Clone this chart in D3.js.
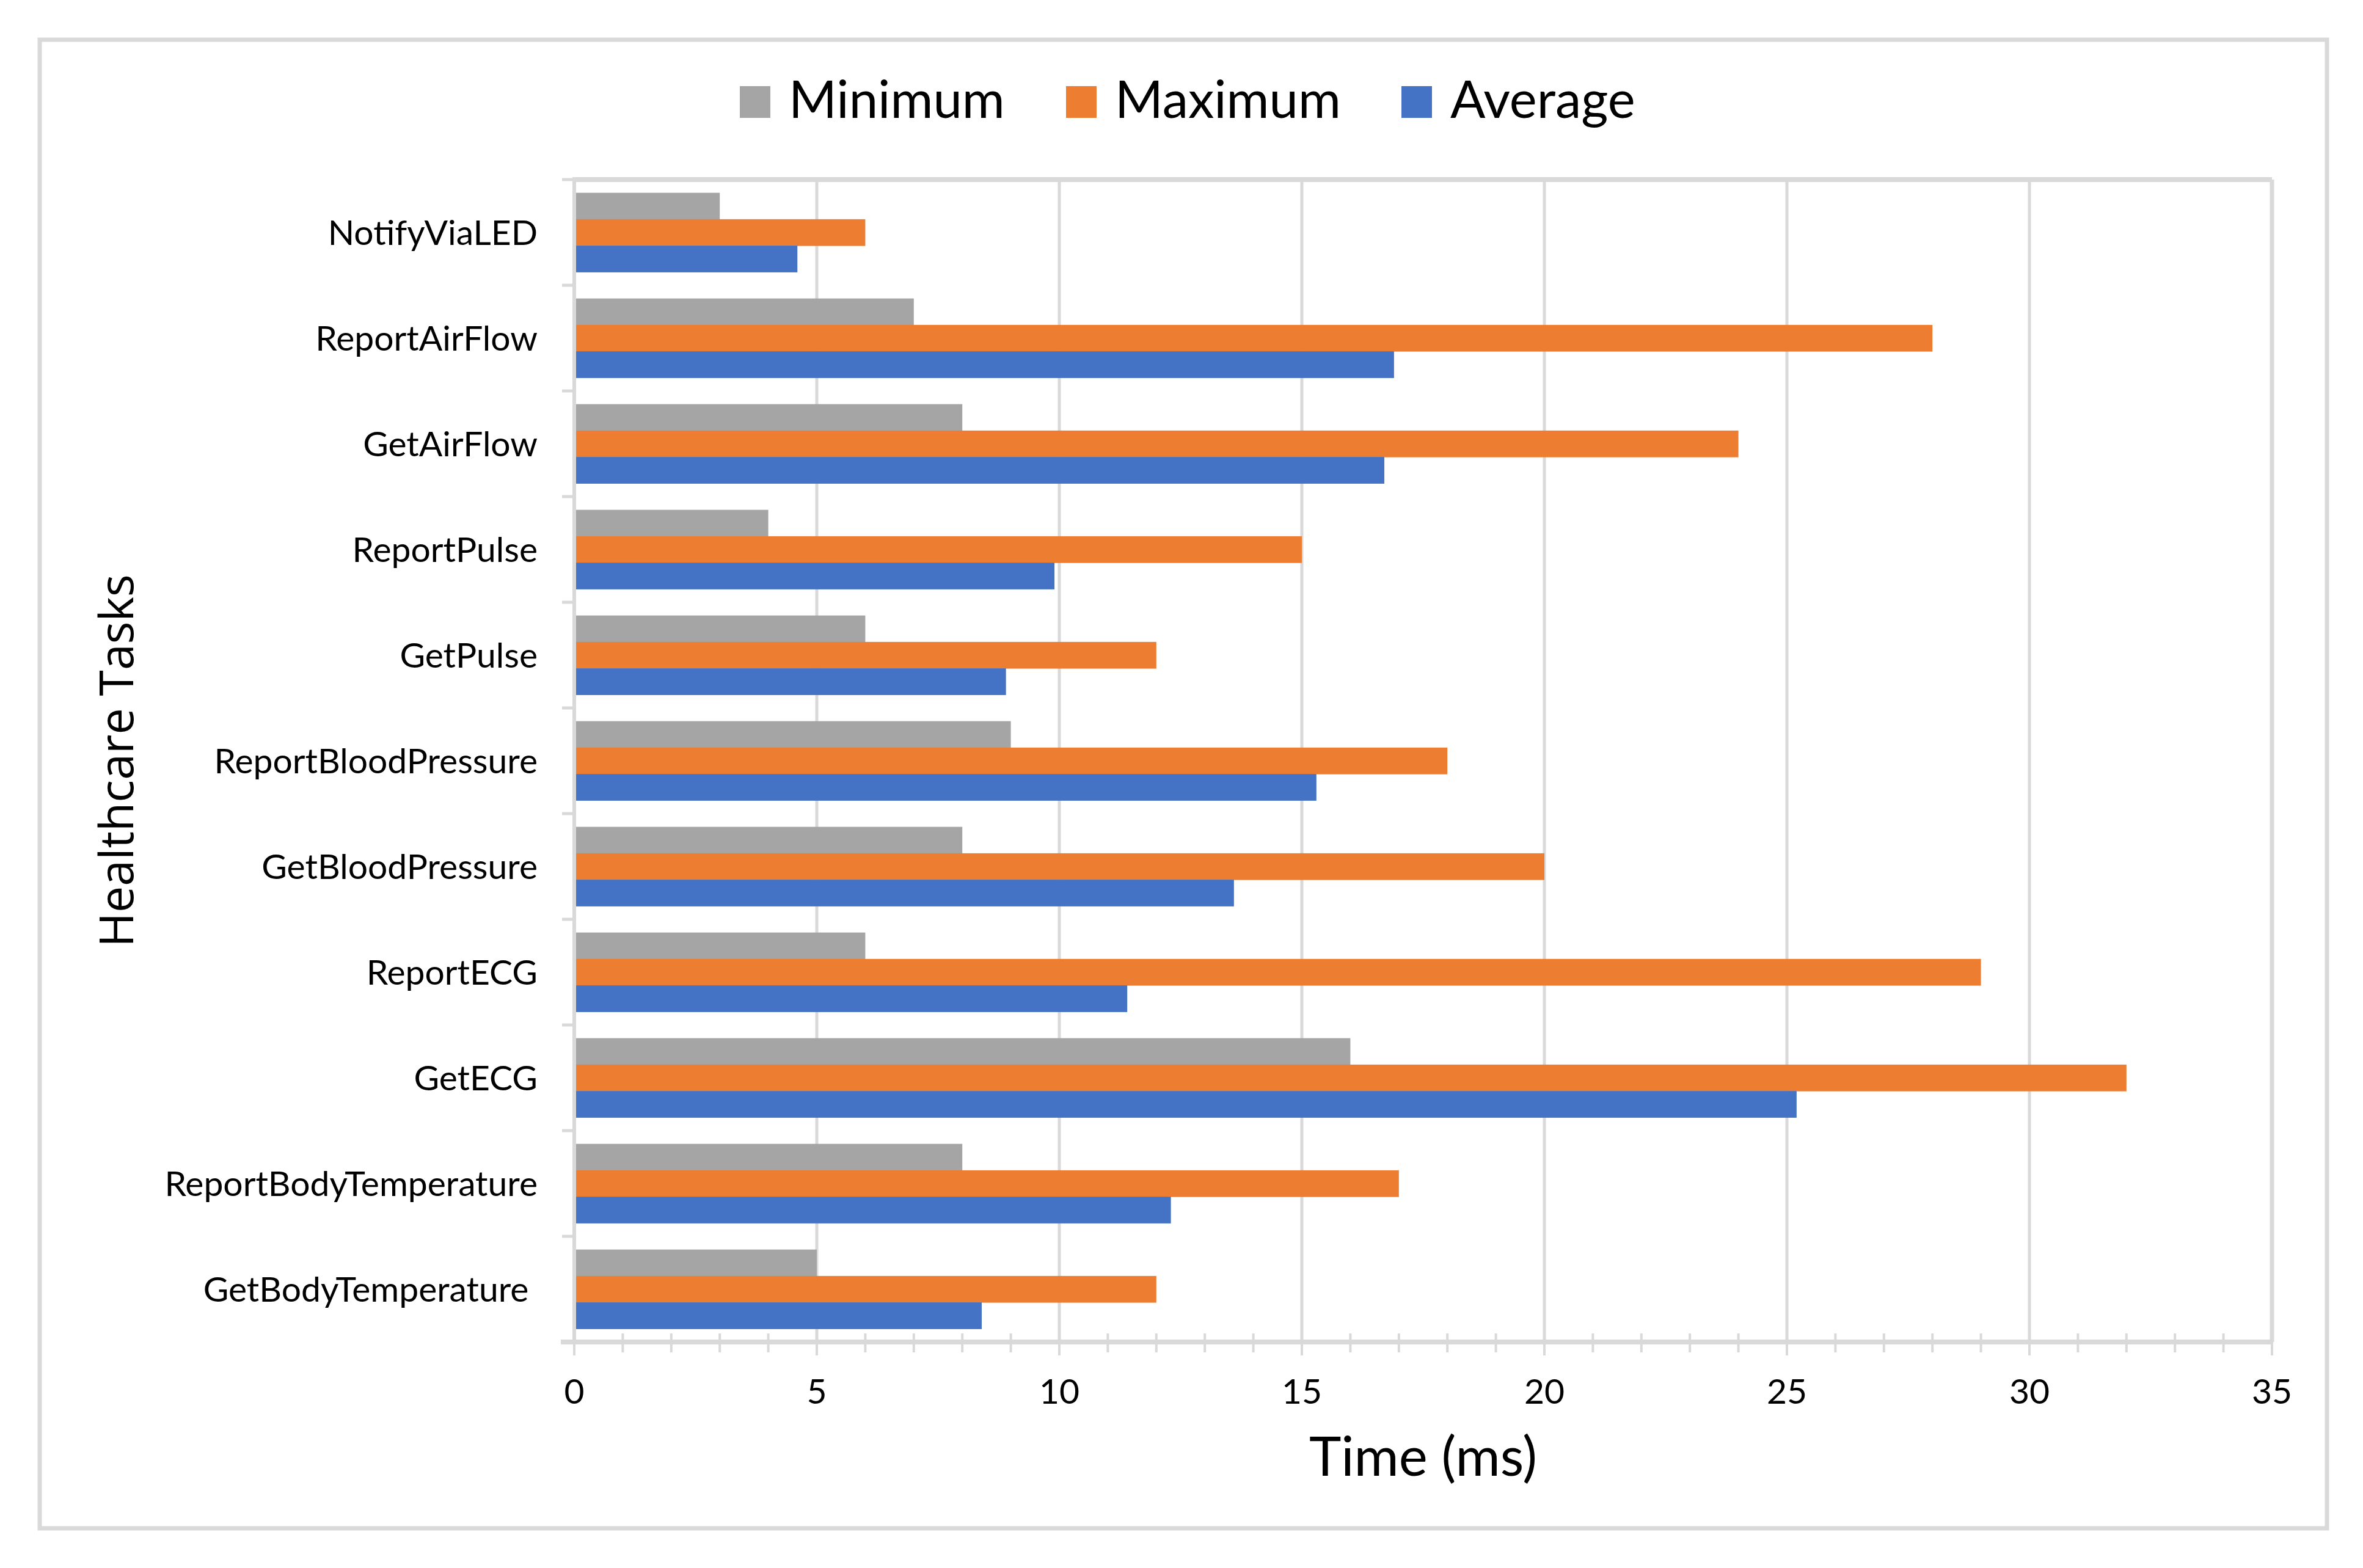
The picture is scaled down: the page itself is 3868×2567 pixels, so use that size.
<!DOCTYPE html>
<html>
<head>
<meta charset="utf-8">
<script src="https://cdn.jsdelivr.net/npm/d3@7"></script>
<style>
  html, body { margin: 0; padding: 0; background: #fff; }
  text { font-family: Lato, "Open Sans", sans-serif; fill: #000; white-space: pre; }
</style>
</head>
<body>
<svg id="chart" width="3868" height="2567"></svg>
<script>
const tasks = ['NotifyViaLED', 'ReportAirFlow', 'GetAirFlow', 'ReportPulse', 'GetPulse',
  'ReportBloodPressure', 'GetBloodPressure', 'ReportECG', 'GetECG',
  'ReportBodyTemperature', 'GetBodyTemperature ']
const seriesNames = ['Minimum', 'Maximum', 'Average']
const minimum = [3, 7, 8, 4, 6, 9, 8, 6, 16, 8, 5]
const maximum = [6, 28, 24, 15, 12, 18, 20, 29, 32, 17, 12]
const average = [4.6, 16.9, 16.7, 9.9, 8.9, 15.3, 13.6, 11.4, 25.2, 12.3, 8.4]
const colors = ['#a5a5a5', '#ed7d31', '#4472c4']
const xTicks = [0, 5, 10, 15, 20, 25, 30, 35]

const svg = d3.select('#chart')
const width = +svg.attr('width')
const height = +svg.attr('height')
const grid = '#d9d9d9'

const margin = { left: 940, right: width - 3719, top: 294, bottom: height - 2197 }

svg.append('rect').attr('width', width).attr('height', height).attr('fill', '#fff')

// outer chart border
svg.append('rect')
  .attr('x', 65).attr('y', 65)
  .attr('width', 3744).attr('height', 2437)
  .attr('fill', 'none').attr('stroke', grid).attr('stroke-width', 7)

const x = d3.scaleLinear().domain([0, 35]).range([margin.left, width - margin.right])
const y = d3.scaleBand().domain(tasks)
  .range([margin.top, height - margin.bottom])
  .paddingInner(0.25).paddingOuter(0.125)
const ySub = d3.scaleBand().domain(seriesNames).range([0, y.bandwidth()])

const rows = tasks.map((t, i) => ({ task: t, values: [minimum[i], maximum[i], average[i]] }))

// vertical gridlines
svg.append('g')
  .selectAll('line')
  .data(xTicks)
  .join('line')
    .attr('x1', d => x(d)).attr('x2', d => x(d))
    .attr('y1', margin.top).attr('y2', height - margin.bottom)
    .attr('stroke', grid).attr('stroke-width', 5)

// plot top / right border
svg.append('line')
  .attr('x1', x(0)).attr('x2', x(35))
  .attr('y1', margin.top).attr('y2', margin.top)
  .attr('stroke', grid).attr('stroke-width', 8)
svg.append('line')
  .attr('x1', x(35)).attr('x2', x(35))
  .attr('y1', margin.top).attr('y2', height - margin.bottom)
  .attr('stroke', grid).attr('stroke-width', 7)

// bars
const group = svg.append('g')
  .selectAll('g')
  .data(rows)
  .join('g')
    .attr('transform', d => `translate(0,${y(d.task)})`)

group.selectAll('rect')
  .data(d => d.values.map((v, i) => ({ key: seriesNames[i], value: v, i })))
  .join('rect')
    .attr('x', x(0))
    .attr('y', d => ySub(d.key))
    .attr('width', d => x(d.value) - x(0))
    .attr('height', ySub.bandwidth() + 0.5)
    .attr('fill', d => colors[d.i])

// x axis
const xAxis = svg.append('g')
  .attr('transform', `translate(0,${height - margin.bottom})`)
xAxis.append('line')
  .attr('x1', x(0) - 22).attr('x2', x(35) + 2)
  .attr('stroke', grid).attr('stroke-width', 8)
xAxis.selectAll('.minor')
  .data(d3.range(0, 36))
  .join('line')
    .attr('class', 'minor')
    .attr('x1', d => x(d)).attr('x2', d => x(d))
    .attr('y1', -14).attr('y2', d => d % 5 === 0 ? 22 : 17)
    .attr('stroke', grid).attr('stroke-width', 4)
xAxis.selectAll('text')
  .data(xTicks)
  .join('text')
    .attr('x', d => x(d))
    .attr('y', 101)
    .attr('text-anchor', 'middle')
    .attr('font-size', 57)
    .text(d => d)

// y axis
const yAxis = svg.append('g')
yAxis.append('line')
  .attr('x1', x(0)).attr('x2', x(0))
  .attr('y1', margin.top - 4).attr('y2', height - margin.bottom + 4)
  .attr('stroke', grid).attr('stroke-width', 6)
const bounds = tasks.map(t => y(t) - y.step() * 0.125).concat([height - margin.bottom])
yAxis.selectAll('.tick')
  .data(bounds)
  .join('line')
    .attr('class', 'tick')
    .attr('x1', x(0) - 20).attr('x2', x(0))
    .attr('y1', d => d).attr('y2', d => d)
    .attr('stroke', grid).attr('stroke-width', 5)
yAxis.selectAll('text')
  .data(tasks)
  .join('text')
    .attr('x', x(0) - 60)
    .attr('y', d => y(d) + y.bandwidth() / 2)
    .attr('dy', '0.36em')
    .attr('text-anchor', 'end')
    .attr('font-size', 57)
    .text(d => d)

// axis titles
svg.append('text')
  .attr('x', (x(0) + x(35)) / 2)
  .attr('y', 2416)
  .attr('text-anchor', 'middle')
  .attr('font-size', 89)
  .text('Time (ms)')

svg.append('text')
  .attr('transform', `translate(218,${(margin.top + height - margin.bottom) / 2}) rotate(-90)`)
  .attr('text-anchor', 'middle')
  .style('font-family', '"Open Sans", sans-serif')
  .attr('font-size', 77)
  .text('Healthcare Tasks')

// legend
const legendX = [1211, 1745, 2294]
const legend = svg.append('g')
  .selectAll('g')
  .data(seriesNames)
  .join('g')
    .attr('transform', (d, i) => `translate(${legendX[i]},141)`)
legend.append('rect')
  .attr('width', 50).attr('height', 52)
  .attr('fill', (d, i) => colors[i])
legend.append('text')
  .attr('x', 80).attr('y', 52)
  .attr('font-size', 85)
  .text(d => d)
</script>
</body>
</html>
